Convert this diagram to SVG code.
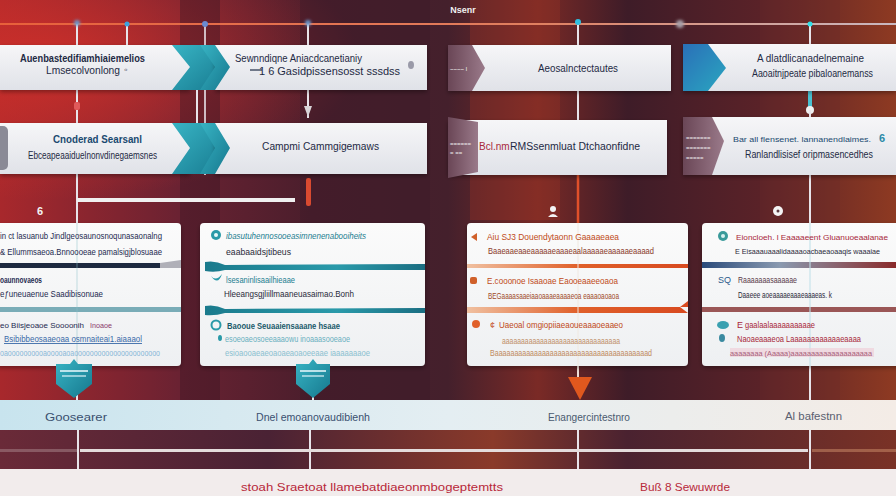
<svg xmlns="http://www.w3.org/2000/svg" width="896" height="496" viewBox="0 0 896 496">
<defs>
<linearGradient id="bg" x1="0" y1="0" x2="1" y2="0">
<stop offset="0" stop-color="#a8282c"/>
<stop offset="0.2" stop-color="#6a2232"/>
<stop offset="0.35" stop-color="#4a1e2c"/>
<stop offset="0.5" stop-color="#44202c"/>
<stop offset="0.6" stop-color="#7a2a26"/>
<stop offset="0.7" stop-color="#3e1c28"/>
<stop offset="0.85" stop-color="#5a2228"/>
<stop offset="1" stop-color="#8e3a22"/>
</linearGradient>
<radialGradient id="redglow" cx="0.05" cy="0.15" r="0.35">
<stop offset="0" stop-color="#d0302a" stop-opacity="0.9"/>
<stop offset="1" stop-color="#d0302a" stop-opacity="0"/>
</radialGradient>
<linearGradient id="topline" x1="0" y1="0" x2="1" y2="0">
<stop offset="0" stop-color="#e8603a"/>
<stop offset="0.6" stop-color="#e08060"/>
<stop offset="1" stop-color="#c8b8c0"/>
</linearGradient>
<linearGradient id="box" x1="0" y1="0" x2="0" y2="1">
<stop offset="0" stop-color="#f6f6f8"/>
<stop offset="1" stop-color="#e0e2e8"/>
</linearGradient>
<linearGradient id="card" x1="0" y1="0" x2="0" y2="1">
<stop offset="0" stop-color="#fbfbfb"/>
<stop offset="1" stop-color="#eef0f2"/>
</linearGradient>
<linearGradient id="teal" x1="0" y1="0" x2="1" y2="1">
<stop offset="0" stop-color="#38b4c4"/>
<stop offset="1" stop-color="#16788e"/>
</linearGradient>
<linearGradient id="blue" x1="0" y1="0" x2="1" y2="1">
<stop offset="0" stop-color="#2a70b8"/>
<stop offset="1" stop-color="#2aa6c0"/>
</linearGradient>
<linearGradient id="purple" x1="0" y1="0" x2="1" y2="0">
<stop offset="0" stop-color="#6a4656"/>
<stop offset="1" stop-color="#9a7a8a"/>
</linearGradient>
<linearGradient id="tealsep" x1="0" y1="0" x2="1" y2="0">
<stop offset="0" stop-color="#1a7a8c"/>
<stop offset="0.6" stop-color="#2a9aaa"/>
<stop offset="1" stop-color="#1a6e82"/>
</linearGradient>
<linearGradient id="orangesep" x1="0" y1="0" x2="1" y2="0">
<stop offset="0" stop-color="#f0c0a0"/>
<stop offset="0.5" stop-color="#e0602a"/>
<stop offset="1" stop-color="#d84a20"/>
</linearGradient>
<linearGradient id="dsep" x1="0" y1="0" x2="1" y2="0">
<stop offset="0" stop-color="#2a4a7a"/>
<stop offset="0.4" stop-color="#8a9ab0"/>
<stop offset="1" stop-color="#8a2a2a"/>
</linearGradient>
<linearGradient id="lband" x1="0" y1="0" x2="1" y2="0">
<stop offset="0" stop-color="#c8e4ee"/>
<stop offset="0.5" stop-color="#e4eef2"/>
<stop offset="1" stop-color="#f4ece6"/>
</linearGradient>
<linearGradient id="dband" x1="0" y1="0" x2="1" y2="0">
<stop offset="0" stop-color="#6a2a38"/>
<stop offset="0.3" stop-color="#4a2234"/>
<stop offset="0.55" stop-color="#8a3a2a"/>
<stop offset="0.7" stop-color="#4a2230"/>
<stop offset="1" stop-color="#7a3226"/>
</linearGradient>
<filter id="sh" x="-10%" y="-10%" width="120%" height="130%">
<feDropShadow dx="0" dy="2" stdDeviation="2" flood-color="#000" flood-opacity="0.35"/>
</filter>
<filter id="glow" x="-100%" y="-100%" width="300%" height="300%">
<feGaussianBlur stdDeviation="1.5"/>
</filter>
</defs>
<style>
text{font-family:"Liberation Sans",Arial,sans-serif;}
.t{font-size:10px;fill:#1e2a44;}
.tb{font-size:10px;fill:#1e2a44;font-weight:bold;}
.s{font-size:9px;fill:#2a2a3a;}
.tl{font-size:9px;fill:#1c7e90;}
.or{font-size:9px;fill:#c04a20;}
.rd{font-size:9px;fill:#a8283a;}
.lbl{font-size:10px;fill:#3a5070;}
.btm{font-size:11px;fill:#b8283a;}
.vl{stroke:#e8e4ea;stroke-width:2;fill:none;}
</style>

<!-- background -->
<rect width="896" height="496" fill="url(#bg)"/>
<rect width="896" height="400" fill="url(#redglow)"/>
<rect x="180" y="0" width="40" height="400" fill="#3a1624" opacity="0.4"/>
<rect x="300" y="0" width="130" height="400" fill="#381a28" opacity="0.35"/>
<rect x="470" y="0" width="90" height="220" fill="#9a3424" opacity="0.35"/>
<rect x="760" y="0" width="80" height="400" fill="#6a2a2c" opacity="0.3"/>

<!-- title -->
<text x="463" y="13" text-anchor="middle" style="font-size:9px;fill:#f0f0f0;font-weight:bold">Nsenr</text>

<!-- connectors -->
<g id="connectors">
<rect x="0" y="23" width="896" height="2" fill="url(#topline)"/>
<line class="vl" x1="77" y1="24" x2="77" y2="45"/>
<line class="vl" x1="127" y1="24" x2="127" y2="45"/>
<line class="vl" x1="205" y1="24" x2="205" y2="175" stroke-width="1" opacity="0.8"/>
<line class="vl" x1="308" y1="24" x2="308" y2="45"/>
<line class="vl" x1="578" y1="24" x2="578" y2="45"/>
<line class="vl" x1="810" y1="24" x2="810" y2="45"/>
<circle cx="77" cy="23" r="3" fill="#6a9ad0" filter="url(#glow)"/>
<circle cx="127" cy="24" r="2.5" fill="#3aa0e0"/>
<circle cx="205" cy="24" r="3" fill="#6a8ad0"/>
<circle cx="308" cy="23" r="3" fill="#6a9ad0" filter="url(#glow)"/>
<circle cx="578" cy="22" r="3" fill="#30c0e0"/>
<circle cx="680" cy="24" r="4" fill="#a8a0a8" filter="url(#glow)"/>
<circle cx="810" cy="24" r="2.5" fill="#30e0e8"/>
<!-- row1 to row2 -->
<line class="vl" x1="77" y1="90" x2="77" y2="123" stroke-width="1"/>
<rect x="74" y="102" width="6" height="8" rx="2" fill="#e05a5a"/>
<line class="vl" x1="197" y1="90" x2="197" y2="123" stroke-width="1"/>
<line class="vl" x1="308" y1="90" x2="308" y2="118" stroke-width="1.5"/>
<path d="M304,106 L312,106 L308,117 Z" fill="#d8d4d8"/>
<line class="vl" x1="578" y1="91" x2="578" y2="120" stroke-width="1.5"/>
<rect x="808" y="91" width="4" height="17" fill="#4ac0d0"/>
<circle cx="810" cy="110" r="4" fill="#f0f0f0"/>
<line class="vl" x1="810" y1="110" x2="810" y2="117"/>
<!-- row2 to row3 -->
<line class="vl" x1="77" y1="174" x2="77" y2="223" stroke-width="1"/>
<rect x="306" y="178" width="5" height="28" rx="2" fill="#d84a30"/>
<line x1="578" y1="175" x2="578" y2="223" stroke="#e0502a" stroke-width="2.5"/>
<line class="vl" x1="810" y1="175" x2="810" y2="223"/>
<rect x="77" y="198" width="218" height="4" fill="#f0f0f0"/>
<!-- below cards -->
<line x1="578" y1="365" x2="578" y2="380" stroke="#f0e0d8" stroke-width="2"/>
<path d="M568,377 L592,377 L580,400 Z" fill="#e0581e"/>
<line class="vl" x1="810" y1="365" x2="810" y2="400"/>
<line class="vl" x1="77" y1="395" x2="77" y2="402"/>
<line class="vl" x1="313" y1="395" x2="313" y2="402"/>
</g>

<!-- row 1 -->
<g id="n1">
<path d="M0,55 L8,62 L0,70 Z" fill="url(#teal)"/>
<rect x="0" y="45" width="190" height="45" fill="url(#box)" filter="url(#sh)"/>
<text class="tb" x="20" y="62" textLength="125" lengthAdjust="spacingAndGlyphs">Auenbastedifiamhiaiemelios</text>
<text class="t" x="46" y="74" textLength="74" lengthAdjust="spacingAndGlyphs">Lmsecolvonlong</text>
<text class="t" x="124" y="73">◦</text>
</g>
<g id="n2">
<path d="M172,45 L210,45 L228,67 L210,90 L172,90 L190,67 Z" fill="url(#teal)"/>
<rect x="215" y="45" width="212" height="45" fill="url(#box)" filter="url(#sh)"/>
<path d="M200,45 L215,45 L230,67 L215,90 L200,90 L215,67 Z" fill="url(#teal)"/>
<text class="t" x="235" y="62" textLength="127" lengthAdjust="spacingAndGlyphs">Sewnndiqne  Aniacdcanetianiy</text>
<line x1="250" y1="70" x2="262" y2="70" stroke="#1e2a44" stroke-width="1.2"/>
<text class="t" x="259" y="75" textLength="141" lengthAdjust="spacingAndGlyphs">1  6  Gasidpissensosst  sssdss</text>
<ellipse cx="411" cy="65" rx="3" ry="4" fill="#9a9aa8"/>
</g>
<g id="n3">
<rect x="448" y="45" width="223" height="46" fill="url(#box)" filter="url(#sh)"/>
<path d="M448,45 L472,45 L485,68 L472,91 L448,91 Z" fill="url(#purple)"/>
<text x="450" y="71" style="font-size:6px;fill:#f0f0f0">~~~~ l</text>
<text class="t" x="538" y="72" textLength="80" lengthAdjust="spacingAndGlyphs">Aeosalnctectautes</text>
</g>
<g id="n4">
<rect x="683" y="44" width="213" height="47" fill="url(#box)" filter="url(#sh)"/>
<path d="M683,44 L708,44 L726,68 L708,91 L683,91 Z" fill="url(#blue)"/>
<text class="t" x="757" y="62" textLength="107" lengthAdjust="spacingAndGlyphs">A  dlatdlicanadelnemaine</text>
<text class="t" x="752" y="77" textLength="121" lengthAdjust="spacingAndGlyphs">Aaoaitnjpeate  pibaloanemanss</text>
</g>

<!-- row 2 -->
<g id="n5">
<rect x="0" y="123" width="190" height="51" fill="url(#box)" filter="url(#sh)"/>
<rect x="-6" y="126" width="14" height="44" rx="5" fill="#8a8a96"/>
<text class="tb" x="53" y="143" textLength="89" lengthAdjust="spacingAndGlyphs" style="fill:#1a4a70">Cnoderad Searsanl</text>
<text class="t" x="28" y="159" textLength="129" lengthAdjust="spacingAndGlyphs">Ebceapeaaiduelnonvdinegaemsnes</text>
</g>
<g id="n6">
<path d="M172,123 L210,123 L228,148 L210,174 L172,174 L190,148 Z" fill="url(#teal)"/>
<rect x="215" y="123" width="212" height="51" fill="url(#box)" filter="url(#sh)"/>
<path d="M200,123 L215,123 L230,148 L215,174 L200,174 L215,148 Z" fill="url(#teal)"/>
<text class="t" x="262" y="150" textLength="117" lengthAdjust="spacingAndGlyphs">Campmi   Cammgigemaws</text>
</g>
<g id="n7">
<rect x="448" y="120" width="219" height="55" fill="url(#box)" filter="url(#sh)"/>
<path d="M448,117 L478,122 L478,172 L448,178 Z" fill="url(#purple)"/>
<text x="450" y="146" style="font-size:6px;fill:#f0f0f0">======</text>
<text x="450" y="155" style="font-size:6px;fill:#f0f0f0">=  ==</text>
<text class="rd" x="479" y="150" style="font-size:10px">Bcl.nm</text>
<text class="t" x="510" y="150" textLength="130" lengthAdjust="spacingAndGlyphs">RMSsenmluat  Dtchaonfidne</text>
</g>
<g id="n8">
<rect x="683" y="117" width="213" height="58" fill="url(#box)" filter="url(#sh)"/>
<path d="M683,117 L712,117 L724,141 L712,175 L683,175 Z" fill="url(#purple)"/>
<text x="686" y="140" style="font-size:6px;fill:#f0f0f0">=======</text>
<text x="686" y="150" style="font-size:6px;fill:#f0f0f0">=======</text>
<text x="686" y="160" style="font-size:6px;fill:#f0f0f0">=====</text>
<text class="t" x="733" y="142" textLength="138" lengthAdjust="spacingAndGlyphs" style="fill:#1a4a70;font-size:8px">Bar all  flensenet.  lannanendlaimes.</text>
<text x="879" y="142" style="font-size:11px;fill:#2a8aa8;font-weight:bold">6</text>
<text class="t" x="745" y="158" textLength="128" lengthAdjust="spacingAndGlyphs">Ranlandlisisef  oripmasencedhes</text>
</g>

<!-- small icons -->
<text x="40" y="215" text-anchor="middle" style="font-size:11px;fill:#f4f4f4;font-weight:bold">6</text>
<g fill="#f4f4f4"><circle cx="553" cy="209" r="3"/><path d="M548,217 Q553,211 558,217 Z"/></g>
<circle cx="778" cy="211" r="5" fill="#f4f4f4"/><circle cx="778" cy="211" r="1.5" fill="#5a3a40"/>

<!-- row 3 cards -->
<g id="cardA">
<rect x="-4" y="223" width="185" height="143" rx="4" fill="url(#card)" filter="url(#sh)"/>
<rect x="0" y="263" width="160" height="5" fill="#1e2a40"/>
<path d="M160,263 L181,260 L181,268 L160,268 Z" fill="#b0b0b8"/>
<rect x="0" y="307" width="181" height="5" fill="#5a9aa8" opacity="0.8"/>
<line x1="77" y1="223" x2="77" y2="366" stroke="#8ac0c8" stroke-width="1" opacity="0.5"/>
<text class="s" x="0" y="239" textLength="162" lengthAdjust="spacingAndGlyphs" style="fill:#1e2a50">in ct lasuanub Jindlgeosaunosnoqunasaonalng</text>
<text class="s" x="0" y="255" textLength="162" lengthAdjust="spacingAndGlyphs" style="fill:#1e2a50">&amp;  Ellummsaeoa.Bnnoooeae  pamalsigjblosuaae</text>
<text class="s" x="0" y="283" textLength="42" lengthAdjust="spacingAndGlyphs" style="fill:#1e2a50;font-weight:bold">oaunnovaeos</text>
<text class="s" x="0" y="297" textLength="103" lengthAdjust="spacingAndGlyphs" style="fill:#1e2a50">eƒuneuaenue  Saadibisonuae</text>
<text class="s" x="0" y="328" textLength="84" lengthAdjust="spacingAndGlyphs" style="fill:#1e2a50;font-size:7px">eo  Biisjeoaoe  Soooonih</text>
<text class="s" x="90" y="328" textLength="22" lengthAdjust="spacingAndGlyphs" style="fill:#8a3a6a;font-size:7px">Inoaoe</text>
<text class="s" x="4" y="342" textLength="138" lengthAdjust="spacingAndGlyphs" style="fill:#3a6aa8;text-decoration:underline">Bsibibbeosaaeoaa  osmnaiteai1.aiaaaol</text>
<text class="s" x="0" y="356" textLength="160" lengthAdjust="spacingAndGlyphs" style="fill:#8ab8d8">oaoooooooooaooooaoaoooooooooooooooooooooo</text>
</g>
<g id="cardB">
<rect x="200" y="223" width="225" height="143" rx="4" fill="url(#card)" filter="url(#sh)"/>
<path d="M205,262 Q215,260 225,265 L425,264 L425,270 L225,270 Q215,273 205,271 Z" fill="url(#tealsep)"/>
<path d="M205,306 Q215,304 225,309 L425,308 L425,313 L225,313 Q215,316 205,315 Z" fill="url(#tealsep)"/>
<circle cx="216" cy="235" r="5" fill="#2a9aa8"/><circle cx="216" cy="235" r="2" fill="#e8f8fa"/>
<text class="tl" x="226" y="239" textLength="140" lengthAdjust="spacingAndGlyphs" style="font-style:italic">ibasutuhennosooeasimnenenabooiheits</text>
<text class="s" x="226" y="255" textLength="65" lengthAdjust="spacingAndGlyphs">eaabaaidsjtibeus</text>
<path d="M211,276 Q216,282 222,274 Q218,286 211,276 Z" fill="#2a9aa8"/>
<text class="tl" x="226" y="283" textLength="69" lengthAdjust="spacingAndGlyphs">lsesaninlisaailhieaae</text>
<text class="s" x="224" y="297" textLength="130" lengthAdjust="spacingAndGlyphs">Hleeangsgjliillmaaneuasaimao.Bonh</text>
<circle cx="216" cy="325" r="4.5" fill="none" stroke="#2a9aa8" stroke-width="2"/>
<text class="s" x="227" y="329" textLength="113" lengthAdjust="spacingAndGlyphs" style="fill:#1a5a6a;font-weight:bold">Baooue  Seuaaiensaaane  hsaae</text>
<ellipse cx="220" cy="338" rx="2" ry="3" fill="#2a9aa8"/>
<text class="tl" x="225" y="342" textLength="125" lengthAdjust="spacingAndGlyphs" style="fill:#6ab0c0">esoeoaeosoeeaaaowu  inoaaasooeaoe</text>
<text class="tl" x="225" y="356" textLength="145" lengthAdjust="spacingAndGlyphs" style="fill:#8ac0d0">esioaooaeaeoaoaeaoaoeeaae  iaaaaaaaoe</text>
</g>
<g id="cardC">
<rect x="467" y="223" width="221" height="143" rx="4" fill="url(#card)" filter="url(#sh)"/>
<rect x="467" y="264" width="221" height="4" fill="url(#orangesep)"/>
<path d="M467,307 L688,307 L688,301 L680,307 L688,313 L467,313 Z" fill="url(#orangesep)"/>
<line x1="578" y1="223" x2="578" y2="366" stroke="#f0e8e0" stroke-width="1"/>
<path d="M471,237 L477,233 L477,241 Z" fill="#d0602a"/>
<text class="or" x="487" y="240" textLength="132" lengthAdjust="spacingAndGlyphs">Aiu  SJ3  Douendytaonn  Gaaaaeaea</text>
<text class="or" x="488" y="254" textLength="166" lengthAdjust="spacingAndGlyphs" style="fill:#8a3a2a">Baaeaaeaaeaaaaaeaaaeaalaaaaaeaaaaaeaaaad</text>
<rect x="470" y="277" width="7" height="7" rx="2" fill="#d0602a"/>
<text class="or" x="487" y="284" textLength="131" lengthAdjust="spacingAndGlyphs">E.cooonoe  Isaaoae  Eaooeaaeeoaoa</text>
<text class="or" x="488" y="299" textLength="131" lengthAdjust="spacingAndGlyphs" style="fill:#a04a2a">BEGaaaasaaeiaaoaaaeaaaaeoa  eaaaoaoaoa</text>
<circle cx="476" cy="324" r="4" fill="#e0602a"/>
<text class="or" x="490" y="328">¢</text>
<text class="or" x="499" y="328" textLength="124" lengthAdjust="spacingAndGlyphs">Uaeoal  omgiopiiaeaoueaaaoeaaeo</text>
<text class="or" x="502" y="344" textLength="118" lengthAdjust="spacingAndGlyphs" style="fill:#c0906a">aaaaaaaaaaaaaaaaaaaaaaaaaaaaaaa</text>
<text class="or" x="490" y="356" textLength="162" lengthAdjust="spacingAndGlyphs" style="fill:#c08a60">Baaaaaaaaaaaaaaaaaaaaaaaaaaaaaaaaaaaaaaad</text>
</g>
<g id="cardD">
<rect x="702" y="223" width="198" height="143" rx="4" fill="url(#card)" filter="url(#sh)"/>
<rect x="702" y="262" width="194" height="6" fill="url(#dsep)"/>
<rect x="702" y="307" width="194" height="5" fill="#8a3a3a" opacity="0.85"/>
<line x1="810" y1="223" x2="810" y2="366" stroke="#c0e0e8" stroke-width="1.5" opacity="0.7"/>
<circle cx="723" cy="236" r="5" fill="#3a9a9a"/><circle cx="723" cy="236" r="2" fill="#d8f0f0"/>
<text class="rd" x="736" y="240" textLength="152" lengthAdjust="spacingAndGlyphs" style="font-size:7.5px">Eioncloeh.  l Eaaaaeent  Gluanuoeaalanae</text>
<text class="s" x="735" y="254" textLength="145" lengthAdjust="spacingAndGlyphs" style="font-size:7.5px">E Eisaaauaaalidaaaaoacbaeaoaaqis  waaaiae</text>
<text class="s" x="718" y="283" style="fill:#2a5a8a">SQ</text>
<text class="s" x="738" y="283" textLength="59" lengthAdjust="spacingAndGlyphs" style="fill:#5a3a4a">Raaaaaaasaaaaae</text>
<text class="s" x="738" y="298" textLength="94" lengthAdjust="spacingAndGlyphs">Daaeee  aoeaaaaeaaaeaaaeas.  k</text>
<ellipse cx="723" cy="325" rx="6" ry="4" fill="#3aa0b0"/>
<text class="rd" x="737" y="328">E</text>
<text class="rd" x="745" y="328" textLength="70" lengthAdjust="spacingAndGlyphs">gaalaalaaaaaaaaaae</text>
<ellipse cx="722" cy="338" rx="3" ry="4" fill="#3a8aa0"/>
<text class="rd" x="737" y="342" textLength="124" lengthAdjust="spacingAndGlyphs">Naoaeaaaeoa  Laaaaaaaaaaaaeaaaa</text>
<rect x="730" y="348" width="144" height="9" fill="#f0d0d8" opacity="0.7"/>
<text class="rd" x="730" y="356" textLength="142" lengthAdjust="spacingAndGlyphs" style="fill:#a8607a;font-size:7px">aaaaaaaa  (Aaaaa)aaaaaaaaaaaaaaaaaaaa</text>
</g>

<!-- teal shields -->
<g id="shield1">
<path d="M56,364 L70,364 L74,359 L78,364 L92,364 L92,384 L74,398 L56,384 Z" fill="url(#teal)"/>
<rect x="60" y="370" width="28" height="2" fill="#e0f4f8" opacity="0.8"/>
<rect x="62" y="375" width="24" height="2" fill="#e0f4f8" opacity="0.6"/>
</g>
<g id="shield2">
<path d="M296,364 L309,364 L313,359 L317,364 L330,364 L330,384 L313,398 L296,384 Z" fill="url(#teal)"/>
<rect x="300" y="370" width="26" height="2" fill="#e0f4f8" opacity="0.8"/>
<rect x="302" y="375" width="22" height="2" fill="#e0f4f8" opacity="0.6"/>
</g>

<!-- bottom band -->
<rect x="0" y="400" width="896" height="30" fill="url(#lband)"/>
<rect x="0" y="430" width="896" height="39" fill="url(#dband)"/>
<rect x="0" y="469" width="896" height="27" fill="#f2ecec"/>
<g id="bottomlines">
<line class="vl" x1="78" y1="430" x2="78" y2="469"/>
<line class="vl" x1="310" y1="430" x2="310" y2="469"/>
<line class="vl" x1="578" y1="430" x2="578" y2="469"/>
<line class="vl" x1="810" y1="430" x2="810" y2="469"/>
<rect x="80" y="449" width="728" height="3" fill="#e4dcdc"/>
<rect x="0" y="449" width="77" height="3" fill="#a07a80" opacity="0.6"/>
<rect x="812" y="449" width="84" height="3" fill="#c08060" opacity="0.6"/>
</g>
<g id="labels">
<text class="lbl" x="45" y="421" textLength="62" lengthAdjust="spacingAndGlyphs">Goosearer</text>
<text class="lbl" x="256" y="421" textLength="114" lengthAdjust="spacingAndGlyphs">Dnel emoanovaudibienh</text>
<text class="lbl" x="548" y="421" textLength="82" lengthAdjust="spacingAndGlyphs" style="fill:#4a5a70">Enangercintestnro</text>
<text class="lbl" x="785" y="420" textLength="57" lengthAdjust="spacingAndGlyphs" style="fill:#5a6070">Al bafestnn</text>
<text class="btm" x="241" y="491" textLength="262" lengthAdjust="spacingAndGlyphs">stoah  Sraetoat  llamebatdiaeonmbogeptemtts</text>
<text class="btm" x="640" y="491" textLength="90" lengthAdjust="spacingAndGlyphs">Buß  8  Sewuwrde</text>
</g>
</svg>
